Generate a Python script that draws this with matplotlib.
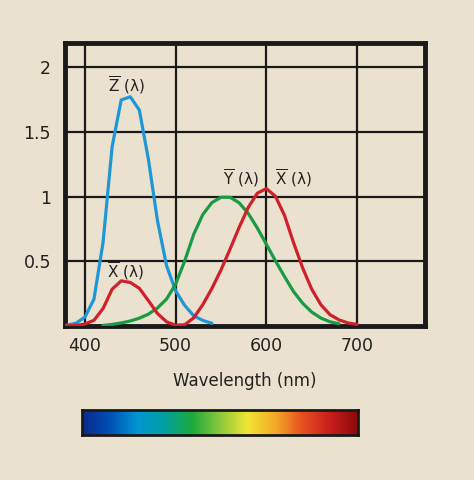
import numpy as np
import matplotlib.pyplot as plt
from matplotlib.colors import LinearSegmentedColormap

BG = "#ebe1cf"

# CIE 1931 colour matching functions read at 10 nm steps
wl_x = [380, 390, 400, 410, 420, 430, 440, 450, 460, 470, 480, 490, 500, 510, 520,
        530, 540, 550, 560, 570, 580, 590, 600, 610, 620, 630, 640, 650, 660, 670,
        680, 690, 700]
x_bar = [0.0014, 0.0042, 0.0143, 0.0435, 0.1344, 0.2839, 0.3483, 0.3362, 0.2908,
         0.1954, 0.0956, 0.0320, 0.0049, 0.0093, 0.0633, 0.1655, 0.2904, 0.4334,
         0.5945, 0.7621, 0.9163, 1.0263, 1.0622, 1.0026, 0.8544, 0.6424, 0.4479,
         0.2835, 0.1649, 0.0874, 0.0468, 0.0227, 0.0114]
wl_y = [420, 430, 440, 450, 460, 470, 480, 490, 500, 510, 520, 530, 540, 550, 560,
        570, 580, 590, 600, 610, 620, 630, 640, 650, 660, 670, 680]
y_bar = [0.0040, 0.0116, 0.0230, 0.0380, 0.0600, 0.0910, 0.1390, 0.2080, 0.3230,
         0.5030, 0.7100, 0.8620, 0.9540, 0.9950, 0.9950, 0.9520, 0.8700, 0.7570,
         0.6310, 0.5030, 0.3810, 0.2650, 0.1750, 0.1070, 0.0610, 0.0320, 0.0170]
wl_z = [380, 390, 400, 410, 420, 430, 440, 450, 460, 470, 480, 490, 500, 510, 520,
        530, 540]
z_bar = [0.0065, 0.0201, 0.0679, 0.2074, 0.6456, 1.3856, 1.7471, 1.7721, 1.6692,
         1.2876, 0.8130, 0.4652, 0.2720, 0.1582, 0.0782, 0.0422, 0.0203]

xticks = [400, 500, 600, 700]
yticks = [0.5, 1, 1.5, 2]
ytick_labels = ["0.5", "1", "1.5", "2"]

spectrum = ["#0a2a8c", "#0050b4", "#0096d2", "#00a0a0", "#1eaa3c", "#8cc83c",
            "#f0e632", "#f5aa28", "#e6501e", "#c81e1e", "#8c0a0a"]

fig = plt.figure(figsize=(4.74, 4.80), dpi=100, facecolor=BG)
ax = fig.add_axes([0.137, 0.321, 0.760, 0.590], facecolor=BG)

line_kw = dict(lw=2.3, solid_joinstyle="round", solid_capstyle="round")
ax.plot(wl_z, z_bar, color="#1f96d6", zorder=3, **line_kw)
ax.plot(wl_y, y_bar, color="#1a9a45", zorder=3, **line_kw)
ax.plot(wl_x, x_bar, color="#d0202a", zorder=4, **line_kw)

ax.set_xlim(378, 775)
ax.set_ylim(0, 2.19)
ax.set_xticks(xticks)
ax.set_yticks(yticks)
ax.set_yticklabels(ytick_labels)
ax.grid(True, color="#1a1a1a", lw=1.6, zorder=1)
ax.tick_params(length=0, labelsize=12.5, colors="#222222", pad=8)
ax.tick_params(axis="y", pad=10)
for s in ax.spines.values():
    s.set_linewidth(3.5)
    s.set_color("#1a1a1a")
ax.set_xlabel("Wavelength (nm)", fontsize=12, color="#222222", labelpad=12)

lbl = dict(fontsize=11, color="#222222", ha="center", va="center")
ax.text(446, 1.86, r"$\overline{\mathrm{Z}}$ (λ)", **lbl)
ax.text(445, 0.42, r"$\overline{\mathrm{X}}$ (λ)", **lbl)
ax.text(572, 1.14, r"$\overline{\mathrm{Y}}$ (λ)", **lbl)
ax.text(630, 1.14, r"$\overline{\mathrm{X}}$ (λ)", **lbl)

cax = fig.add_axes([0.173, 0.094, 0.582, 0.052])
cmap = LinearSegmentedColormap.from_list("spec", spectrum)
cax.imshow(np.linspace(0, 1, 256)[None, :], aspect="auto", cmap=cmap)
cax.set_xticks([])
cax.set_yticks([])
for s in cax.spines.values():
    s.set_linewidth(2)
    s.set_color("#1a1a1a")

fig.savefig("out.png", dpi=100, facecolor=BG)
